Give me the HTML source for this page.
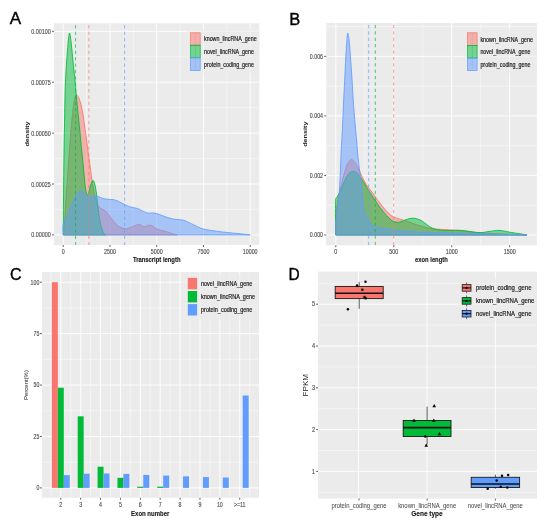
<!DOCTYPE html><html><head><meta charset="utf-8"><style>html,body{margin:0;padding:0;background:#fff;}svg{display:block;}text{font-family:"Liberation Sans", Arial, sans-serif;}</style></head><body>
<svg width="550" height="527" viewBox="0 0 550 527">
<rect x="0" y="0" width="550" height="527" fill="#fff"/>
<rect x="54" y="23.3" width="205.3" height="221.7" fill="#EBEBEB"/>
<line x1="86.58" y1="23.3" x2="86.58" y2="245" stroke="#fff" stroke-width="0.45"/>
<line x1="133.32" y1="23.3" x2="133.32" y2="245" stroke="#fff" stroke-width="0.45"/>
<line x1="180.08" y1="23.3" x2="180.08" y2="245" stroke="#fff" stroke-width="0.45"/>
<line x1="226.82" y1="23.3" x2="226.82" y2="245" stroke="#fff" stroke-width="0.45"/>
<line x1="54" y1="209.45" x2="259.3" y2="209.45" stroke="#fff" stroke-width="0.45"/>
<line x1="54" y1="158.55" x2="259.3" y2="158.55" stroke="#fff" stroke-width="0.45"/>
<line x1="54" y1="107.65" x2="259.3" y2="107.65" stroke="#fff" stroke-width="0.45"/>
<line x1="54" y1="56.75" x2="259.3" y2="56.75" stroke="#fff" stroke-width="0.45"/>
<line x1="63.2" y1="23.3" x2="63.2" y2="245" stroke="#fff" stroke-width="0.9"/>
<line x1="109.95" y1="23.3" x2="109.95" y2="245" stroke="#fff" stroke-width="0.9"/>
<line x1="156.7" y1="23.3" x2="156.7" y2="245" stroke="#fff" stroke-width="0.9"/>
<line x1="203.45" y1="23.3" x2="203.45" y2="245" stroke="#fff" stroke-width="0.9"/>
<line x1="250.2" y1="23.3" x2="250.2" y2="245" stroke="#fff" stroke-width="0.9"/>
<line x1="54" y1="234.9" x2="259.3" y2="234.9" stroke="#fff" stroke-width="0.9"/>
<line x1="54" y1="184" x2="259.3" y2="184" stroke="#fff" stroke-width="0.9"/>
<line x1="54" y1="133.1" x2="259.3" y2="133.1" stroke="#fff" stroke-width="0.9"/>
<line x1="54" y1="82.2" x2="259.3" y2="82.2" stroke="#fff" stroke-width="0.9"/>
<line x1="54" y1="31.3" x2="259.3" y2="31.3" stroke="#fff" stroke-width="0.9"/>
<path d="M63.5,234.9 C63.68,232.75 64.15,228.48 64.6,222 C65.05,215.52 65.63,204.67 66.2,196 C66.77,187.33 67.33,179.33 68,170 C68.67,160.67 69.4,149.83 70.2,140 C71,130.17 72.03,117.92 72.8,111 C73.57,104.08 74.18,101.17 74.8,98.5 C75.42,95.83 75.87,95.17 76.5,95 C77.13,94.83 77.92,96.17 78.6,97.5 C79.28,98.83 79.93,100.58 80.6,103 C81.27,105.42 81.93,108.17 82.6,112 C83.27,115.83 83.92,121.17 84.6,126 C85.28,130.83 86,135.83 86.7,141 C87.4,146.17 88.15,152.17 88.8,157 C89.45,161.83 89.97,165.5 90.6,170 C91.23,174.5 91.87,179.58 92.6,184 C93.33,188.42 94.13,193 95,196.5 C95.87,200 96.8,203 97.8,205 C98.8,207 99.8,207.58 101,208.5 C102.2,209.42 103.6,209.33 105,210.5 C106.4,211.67 107.95,213.67 109.4,215.5 C110.85,217.33 112.02,219.62 113.7,221.5 C115.38,223.38 117.55,225.58 119.5,226.8 C121.45,228.02 123.57,228.68 125.4,228.8 C127.23,228.92 128.32,228.22 130.5,227.5 C132.68,226.78 136.2,224.65 138.5,224.5 C140.8,224.35 142.25,226.47 144.3,226.6 C146.35,226.73 148.62,224.85 150.8,225.3 C152.98,225.75 154.85,228.27 157.4,229.3 C159.95,230.33 163.67,230.78 166.1,231.5 C168.53,232.22 170.17,233.03 172,233.6 C173.83,234.17 176.25,234.68 177.1,234.9 L177.1,234.9 L63.5,234.9 Z" fill="#F8766D" fill-opacity="0.5" stroke="none"/>
<path d="M63.5,234.9 C63.68,232.75 64.15,228.48 64.6,222 C65.05,215.52 65.63,204.67 66.2,196 C66.77,187.33 67.33,179.33 68,170 C68.67,160.67 69.4,149.83 70.2,140 C71,130.17 72.03,117.92 72.8,111 C73.57,104.08 74.18,101.17 74.8,98.5 C75.42,95.83 75.87,95.17 76.5,95 C77.13,94.83 77.92,96.17 78.6,97.5 C79.28,98.83 79.93,100.58 80.6,103 C81.27,105.42 81.93,108.17 82.6,112 C83.27,115.83 83.92,121.17 84.6,126 C85.28,130.83 86,135.83 86.7,141 C87.4,146.17 88.15,152.17 88.8,157 C89.45,161.83 89.97,165.5 90.6,170 C91.23,174.5 91.87,179.58 92.6,184 C93.33,188.42 94.13,193 95,196.5 C95.87,200 96.8,203 97.8,205 C98.8,207 99.8,207.58 101,208.5 C102.2,209.42 103.6,209.33 105,210.5 C106.4,211.67 107.95,213.67 109.4,215.5 C110.85,217.33 112.02,219.62 113.7,221.5 C115.38,223.38 117.55,225.58 119.5,226.8 C121.45,228.02 123.57,228.68 125.4,228.8 C127.23,228.92 128.32,228.22 130.5,227.5 C132.68,226.78 136.2,224.65 138.5,224.5 C140.8,224.35 142.25,226.47 144.3,226.6 C146.35,226.73 148.62,224.85 150.8,225.3 C152.98,225.75 154.85,228.27 157.4,229.3 C159.95,230.33 163.67,230.78 166.1,231.5 C168.53,232.22 170.17,233.03 172,233.6 C173.83,234.17 176.25,234.68 177.1,234.9 L177.1,234.9 L63.5,234.9 Z" fill="none" stroke="#F8766D" stroke-width="0.85"/>
<path d="M63.2,234.9 C63.25,229.08 63.37,214.15 63.5,200 C63.63,185.85 63.82,163.33 64,150 C64.18,136.67 64.42,129.67 64.6,120 C64.78,110.33 64.9,99.5 65.1,92 C65.3,84.5 65.55,80 65.8,75 C66.05,70 66.32,66.17 66.6,62 C66.88,57.83 67.2,53.67 67.5,50 C67.8,46.33 68.08,42.83 68.4,40 C68.72,37.17 69.03,33.33 69.4,33 C69.77,32.67 70.15,34.83 70.6,38 C71.05,41.17 71.55,46.67 72.1,52 C72.65,57.33 73.38,64.92 73.9,70 C74.42,75.08 74.85,78.83 75.2,82.5 C75.55,86.17 75.75,89.08 76,92 C76.25,94.92 76.42,97.17 76.7,100 C76.98,102.83 77.35,105.6 77.7,109 C78.05,112.4 78.45,116.9 78.8,120.4 C79.15,123.9 79.48,126.73 79.8,130 C80.12,133.27 80.28,135.67 80.7,140 C81.12,144.33 81.78,150.67 82.3,156 C82.82,161.33 83.3,166.83 83.8,172 C84.3,177.17 84.78,183.25 85.3,187 C85.82,190.75 86.35,193.5 86.9,194.5 C87.45,195.5 87.97,194.58 88.6,193 C89.23,191.42 89.95,187.1 90.7,185 C91.45,182.9 92.38,180.4 93.1,180.4 C93.82,180.4 94.43,182.73 95,185 C95.57,187.27 95.97,190 96.5,194 C97.03,198 97.58,204.25 98.2,209 C98.82,213.75 99.48,218.92 100.2,222.5 C100.92,226.08 101.78,228.58 102.5,230.5 C103.22,232.42 103.95,233.27 104.5,234 C105.05,234.73 105.58,234.75 105.8,234.9 L105.8,234.9 L63.2,234.9 Z" fill="#00BA38" fill-opacity="0.5" stroke="none"/>
<path d="M63.2,234.9 C63.25,229.08 63.37,214.15 63.5,200 C63.63,185.85 63.82,163.33 64,150 C64.18,136.67 64.42,129.67 64.6,120 C64.78,110.33 64.9,99.5 65.1,92 C65.3,84.5 65.55,80 65.8,75 C66.05,70 66.32,66.17 66.6,62 C66.88,57.83 67.2,53.67 67.5,50 C67.8,46.33 68.08,42.83 68.4,40 C68.72,37.17 69.03,33.33 69.4,33 C69.77,32.67 70.15,34.83 70.6,38 C71.05,41.17 71.55,46.67 72.1,52 C72.65,57.33 73.38,64.92 73.9,70 C74.42,75.08 74.85,78.83 75.2,82.5 C75.55,86.17 75.75,89.08 76,92 C76.25,94.92 76.42,97.17 76.7,100 C76.98,102.83 77.35,105.6 77.7,109 C78.05,112.4 78.45,116.9 78.8,120.4 C79.15,123.9 79.48,126.73 79.8,130 C80.12,133.27 80.28,135.67 80.7,140 C81.12,144.33 81.78,150.67 82.3,156 C82.82,161.33 83.3,166.83 83.8,172 C84.3,177.17 84.78,183.25 85.3,187 C85.82,190.75 86.35,193.5 86.9,194.5 C87.45,195.5 87.97,194.58 88.6,193 C89.23,191.42 89.95,187.1 90.7,185 C91.45,182.9 92.38,180.4 93.1,180.4 C93.82,180.4 94.43,182.73 95,185 C95.57,187.27 95.97,190 96.5,194 C97.03,198 97.58,204.25 98.2,209 C98.82,213.75 99.48,218.92 100.2,222.5 C100.92,226.08 101.78,228.58 102.5,230.5 C103.22,232.42 103.95,233.27 104.5,234 C105.05,234.73 105.58,234.75 105.8,234.9 L105.8,234.9 L63.2,234.9 Z" fill="none" stroke="#00BA38" stroke-width="0.85"/>
<path d="M63.2,234.9 C63.2,233.15 62.73,227.25 63.2,224.4 C63.67,221.55 64.87,220.45 66,217.8 C67.13,215.15 68.67,211.57 70,208.5 C71.33,205.43 72.68,202.02 74,199.4 C75.32,196.78 76.7,194.2 77.9,192.8 C79.1,191.4 80.2,191.05 81.2,191 C82.2,190.95 83.02,191.75 83.9,192.5 C84.78,193.25 85.62,194.75 86.5,195.5 C87.38,196.25 88.2,196.87 89.2,197 C90.2,197.13 91.28,196.47 92.5,196.3 C93.72,196.13 95.17,195.8 96.5,196 C97.83,196.2 99.08,197 100.5,197.5 C101.92,198 103.28,198.67 105,199 C106.72,199.33 109.1,199.33 110.8,199.5 C112.5,199.67 113.75,199.6 115.2,200 C116.65,200.4 117.93,201.15 119.5,201.9 C121.07,202.65 122.9,203.7 124.6,204.5 C126.3,205.3 127.38,205.97 129.7,206.7 C132.02,207.43 135.58,207.85 138.5,208.9 C141.42,209.95 144.53,212.32 147.2,213 C149.87,213.68 151.83,212.52 154.5,213 C157.17,213.48 160.3,214.93 163.2,215.9 C166.1,216.87 169,218.15 171.9,218.8 C174.8,219.45 178.42,219.47 180.6,219.8 C182.78,220.13 183.03,220.07 185,220.8 C186.97,221.53 189.35,222.83 192.4,224.2 C195.45,225.57 199.3,227.83 203.3,229 C207.3,230.17 212.4,230.62 216.4,231.2 C220.4,231.78 223.37,232.07 227.3,232.5 C231.23,232.93 236.18,233.4 240,233.8 C243.82,234.2 248.5,234.72 250.2,234.9 L250.2,234.9 L63.2,234.9 Z" fill="#619CFF" fill-opacity="0.5" stroke="none"/>
<path d="M63.2,234.9 C63.2,233.15 62.73,227.25 63.2,224.4 C63.67,221.55 64.87,220.45 66,217.8 C67.13,215.15 68.67,211.57 70,208.5 C71.33,205.43 72.68,202.02 74,199.4 C75.32,196.78 76.7,194.2 77.9,192.8 C79.1,191.4 80.2,191.05 81.2,191 C82.2,190.95 83.02,191.75 83.9,192.5 C84.78,193.25 85.62,194.75 86.5,195.5 C87.38,196.25 88.2,196.87 89.2,197 C90.2,197.13 91.28,196.47 92.5,196.3 C93.72,196.13 95.17,195.8 96.5,196 C97.83,196.2 99.08,197 100.5,197.5 C101.92,198 103.28,198.67 105,199 C106.72,199.33 109.1,199.33 110.8,199.5 C112.5,199.67 113.75,199.6 115.2,200 C116.65,200.4 117.93,201.15 119.5,201.9 C121.07,202.65 122.9,203.7 124.6,204.5 C126.3,205.3 127.38,205.97 129.7,206.7 C132.02,207.43 135.58,207.85 138.5,208.9 C141.42,209.95 144.53,212.32 147.2,213 C149.87,213.68 151.83,212.52 154.5,213 C157.17,213.48 160.3,214.93 163.2,215.9 C166.1,216.87 169,218.15 171.9,218.8 C174.8,219.45 178.42,219.47 180.6,219.8 C182.78,220.13 183.03,220.07 185,220.8 C186.97,221.53 189.35,222.83 192.4,224.2 C195.45,225.57 199.3,227.83 203.3,229 C207.3,230.17 212.4,230.62 216.4,231.2 C220.4,231.78 223.37,232.07 227.3,232.5 C231.23,232.93 236.18,233.4 240,233.8 C243.82,234.2 248.5,234.72 250.2,234.9 L250.2,234.9 L63.2,234.9 Z" fill="none" stroke="#619CFF" stroke-width="0.85"/>
<line x1="75.6" y1="23.3" x2="75.6" y2="245" stroke="#00BA38" stroke-width="1" stroke-opacity="0.7" stroke-dasharray="3.3,3.08" stroke-dashoffset="4.48"/>
<line x1="88.9" y1="23.3" x2="88.9" y2="245" stroke="#F8766D" stroke-width="1" stroke-opacity="0.7" stroke-dasharray="3.3,3.08" stroke-dashoffset="4.48"/>
<line x1="124.6" y1="23.3" x2="124.6" y2="245" stroke="#619CFF" stroke-width="1" stroke-opacity="0.7" stroke-dasharray="3.3,3.08" stroke-dashoffset="4.48"/>
<line x1="52.1" y1="31.3" x2="54" y2="31.3" stroke="#333333" stroke-width="0.8"/>
<text x="50.7" y="33.8" font-size="7" text-anchor="end" fill="#4D4D4D" font-weight="normal" textLength="19.34" lengthAdjust="spacingAndGlyphs" stroke="#4D4D4D" stroke-width="0.15">0.00100</text>
<line x1="52.1" y1="82.2" x2="54" y2="82.2" stroke="#333333" stroke-width="0.8"/>
<text x="50.7" y="84.7" font-size="7" text-anchor="end" fill="#4D4D4D" font-weight="normal" textLength="19.34" lengthAdjust="spacingAndGlyphs" stroke="#4D4D4D" stroke-width="0.15">0.00075</text>
<line x1="52.1" y1="133.1" x2="54" y2="133.1" stroke="#333333" stroke-width="0.8"/>
<text x="50.7" y="135.6" font-size="7" text-anchor="end" fill="#4D4D4D" font-weight="normal" textLength="19.34" lengthAdjust="spacingAndGlyphs" stroke="#4D4D4D" stroke-width="0.15">0.00050</text>
<line x1="52.1" y1="184" x2="54" y2="184" stroke="#333333" stroke-width="0.8"/>
<text x="50.7" y="186.5" font-size="7" text-anchor="end" fill="#4D4D4D" font-weight="normal" textLength="19.34" lengthAdjust="spacingAndGlyphs" stroke="#4D4D4D" stroke-width="0.15">0.00025</text>
<line x1="52.1" y1="234.9" x2="54" y2="234.9" stroke="#333333" stroke-width="0.8"/>
<text x="50.7" y="237.4" font-size="7" text-anchor="end" fill="#4D4D4D" font-weight="normal" textLength="19.34" lengthAdjust="spacingAndGlyphs" stroke="#4D4D4D" stroke-width="0.15">0.00000</text>
<line x1="63.2" y1="245" x2="63.2" y2="246.9" stroke="#333333" stroke-width="0.8"/>
<text x="63.2" y="253.6" font-size="7" text-anchor="middle" fill="#4D4D4D" font-weight="normal" textLength="2.95" lengthAdjust="spacingAndGlyphs" stroke="#4D4D4D" stroke-width="0.15">0</text>
<line x1="109.95" y1="245" x2="109.95" y2="246.9" stroke="#333333" stroke-width="0.8"/>
<text x="109.95" y="253.6" font-size="7" text-anchor="middle" fill="#4D4D4D" font-weight="normal" textLength="11.79" lengthAdjust="spacingAndGlyphs" stroke="#4D4D4D" stroke-width="0.15">2500</text>
<line x1="156.7" y1="245" x2="156.7" y2="246.9" stroke="#333333" stroke-width="0.8"/>
<text x="156.7" y="253.6" font-size="7" text-anchor="middle" fill="#4D4D4D" font-weight="normal" textLength="11.79" lengthAdjust="spacingAndGlyphs" stroke="#4D4D4D" stroke-width="0.15">5000</text>
<line x1="203.45" y1="245" x2="203.45" y2="246.9" stroke="#333333" stroke-width="0.8"/>
<text x="203.45" y="253.6" font-size="7" text-anchor="middle" fill="#4D4D4D" font-weight="normal" textLength="11.79" lengthAdjust="spacingAndGlyphs" stroke="#4D4D4D" stroke-width="0.15">7500</text>
<line x1="250.2" y1="245" x2="250.2" y2="246.9" stroke="#333333" stroke-width="0.8"/>
<text x="250.2" y="253.6" font-size="7" text-anchor="middle" fill="#4D4D4D" font-weight="normal" textLength="14.74" lengthAdjust="spacingAndGlyphs" stroke="#4D4D4D" stroke-width="0.15">10000</text>
<text x="156.7" y="262" font-size="7.2" text-anchor="middle" fill="#1a1a1a" font-weight="bold" textLength="47.6" lengthAdjust="spacingAndGlyphs" stroke="#1a1a1a" stroke-width="0.15">Transcript length</text>
<text x="28.7" y="134" font-size="5.4" text-anchor="middle" fill="#1a1a1a" font-weight="bold" textLength="25.2" lengthAdjust="spacingAndGlyphs" transform="rotate(-90 28.7 134)">density</text>
<text x="9.8" y="23.6" font-size="16.2" text-anchor="start" fill="#000" font-weight="normal" textLength="11.4" lengthAdjust="spacingAndGlyphs" stroke="#000" stroke-width="0.35">A</text>
<rect x="326.2" y="23" width="210.7" height="222.3" fill="#EBEBEB"/>
<line x1="364.78" y1="23" x2="364.78" y2="245.3" stroke="#fff" stroke-width="0.45"/>
<line x1="422.75" y1="23" x2="422.75" y2="245.3" stroke="#fff" stroke-width="0.45"/>
<line x1="480.71" y1="23" x2="480.71" y2="245.3" stroke="#fff" stroke-width="0.45"/>
<line x1="326.2" y1="205.23" x2="536.9" y2="205.23" stroke="#fff" stroke-width="0.45"/>
<line x1="326.2" y1="145.69" x2="536.9" y2="145.69" stroke="#fff" stroke-width="0.45"/>
<line x1="326.2" y1="86.15" x2="536.9" y2="86.15" stroke="#fff" stroke-width="0.45"/>
<line x1="326.2" y1="26.61" x2="536.9" y2="26.61" stroke="#fff" stroke-width="0.45"/>
<line x1="335.8" y1="23" x2="335.8" y2="245.3" stroke="#fff" stroke-width="0.9"/>
<line x1="393.76" y1="23" x2="393.76" y2="245.3" stroke="#fff" stroke-width="0.9"/>
<line x1="451.73" y1="23" x2="451.73" y2="245.3" stroke="#fff" stroke-width="0.9"/>
<line x1="509.7" y1="23" x2="509.7" y2="245.3" stroke="#fff" stroke-width="0.9"/>
<line x1="326.2" y1="235" x2="536.9" y2="235" stroke="#fff" stroke-width="0.9"/>
<line x1="326.2" y1="175.46" x2="536.9" y2="175.46" stroke="#fff" stroke-width="0.9"/>
<line x1="326.2" y1="115.92" x2="536.9" y2="115.92" stroke="#fff" stroke-width="0.9"/>
<line x1="326.2" y1="56.38" x2="536.9" y2="56.38" stroke="#fff" stroke-width="0.9"/>
<path d="M335.9,235 C335.93,231.5 335.75,219.83 336.1,214 C336.45,208.17 337.28,204.17 338,200 C338.72,195.83 339.52,192.83 340.4,189 C341.28,185.17 342.2,181 343.3,177 C344.4,173 345.67,167.9 347,165 C348.33,162.1 349.97,160.02 351.3,159.6 C352.63,159.18 353.8,161.02 355,162.5 C356.2,163.98 357.33,166.17 358.5,168.5 C359.67,170.83 360.68,173.82 362,176.5 C363.32,179.18 364.72,181.98 366.4,184.6 C368.08,187.22 370.2,189.6 372.1,192.2 C374,194.8 375.9,197.63 377.8,200.2 C379.7,202.77 381.6,205.33 383.5,207.6 C385.4,209.87 387.5,212.25 389.2,213.8 C390.9,215.35 392,216.03 393.7,216.9 C395.4,217.77 397.52,218.38 399.4,219 C401.28,219.62 403.23,220.05 405,220.6 C406.77,221.15 407.5,221.43 410,222.3 C412.5,223.17 416.57,224.77 420,225.8 C423.43,226.83 426.43,227.87 430.6,228.5 C434.77,229.13 440.63,229.3 445,229.6 C449.37,229.9 451.88,229.85 456.8,230.3 C461.72,230.75 468.97,231.78 474.5,232.3 C480.03,232.82 484.92,233.1 490,233.4 C495.08,233.7 498.83,233.83 505,234.1 C511.17,234.37 523.33,234.85 527,235 L527,235 L335.9,235 Z" fill="#F8766D" fill-opacity="0.5" stroke="none"/>
<path d="M335.9,235 C335.93,231.5 335.75,219.83 336.1,214 C336.45,208.17 337.28,204.17 338,200 C338.72,195.83 339.52,192.83 340.4,189 C341.28,185.17 342.2,181 343.3,177 C344.4,173 345.67,167.9 347,165 C348.33,162.1 349.97,160.02 351.3,159.6 C352.63,159.18 353.8,161.02 355,162.5 C356.2,163.98 357.33,166.17 358.5,168.5 C359.67,170.83 360.68,173.82 362,176.5 C363.32,179.18 364.72,181.98 366.4,184.6 C368.08,187.22 370.2,189.6 372.1,192.2 C374,194.8 375.9,197.63 377.8,200.2 C379.7,202.77 381.6,205.33 383.5,207.6 C385.4,209.87 387.5,212.25 389.2,213.8 C390.9,215.35 392,216.03 393.7,216.9 C395.4,217.77 397.52,218.38 399.4,219 C401.28,219.62 403.23,220.05 405,220.6 C406.77,221.15 407.5,221.43 410,222.3 C412.5,223.17 416.57,224.77 420,225.8 C423.43,226.83 426.43,227.87 430.6,228.5 C434.77,229.13 440.63,229.3 445,229.6 C449.37,229.9 451.88,229.85 456.8,230.3 C461.72,230.75 468.97,231.78 474.5,232.3 C480.03,232.82 484.92,233.1 490,233.4 C495.08,233.7 498.83,233.83 505,234.1 C511.17,234.37 523.33,234.85 527,235 L527,235 L335.9,235 Z" fill="none" stroke="#F8766D" stroke-width="0.85"/>
<path d="M335.6,235 C335.6,229.42 335.37,207.75 335.6,201.5 C335.83,195.25 336.35,199 337,197.5 C337.65,196 338.77,194 339.5,192.5 C340.23,191 340.48,190.58 341.4,188.5 C342.32,186.42 343.73,182.5 345,180 C346.27,177.5 347.55,174.95 349,173.5 C350.45,172.05 352.28,171.3 353.7,171.3 C355.12,171.3 356.23,172.3 357.5,173.5 C358.77,174.7 359.82,176.27 361.3,178.5 C362.78,180.73 364.98,184.62 366.4,186.9 C367.82,189.18 368.47,190.13 369.8,192.2 C371.13,194.27 373.07,197.27 374.4,199.3 C375.73,201.33 376.28,202.28 377.8,204.4 C379.32,206.52 381.6,209.68 383.5,212 C385.4,214.32 387.5,216.7 389.2,218.3 C390.9,219.9 392.18,220.93 393.7,221.6 C395.22,222.27 396.93,222.33 398.3,222.3 C399.67,222.27 400.4,221.92 401.9,221.4 C403.4,220.88 405.48,219.73 407.3,219.2 C409.12,218.67 410.82,218.15 412.8,218.2 C414.78,218.25 417.32,218.78 419.2,219.5 C421.08,220.22 422.2,221.2 424.1,222.5 C426,223.8 428.42,226.12 430.6,227.3 C432.78,228.48 434.73,229.05 437.2,229.6 C439.67,230.15 442.68,230.47 445.4,230.6 C448.12,230.73 450.57,230.42 453.5,230.4 C456.43,230.38 458.75,230.13 463,230.5 C467.25,230.87 474.67,232.43 479,232.6 C483.33,232.77 485.67,231.87 489,231.5 C492.33,231.13 495.23,230.23 499,230.4 C502.77,230.57 508.1,231.93 511.6,232.5 C515.1,233.07 517.43,233.38 520,233.8 C522.57,234.22 525.83,234.8 527,235 L527,235 L335.6,235 Z" fill="#00BA38" fill-opacity="0.5" stroke="none"/>
<path d="M335.6,235 C335.6,229.42 335.37,207.75 335.6,201.5 C335.83,195.25 336.35,199 337,197.5 C337.65,196 338.77,194 339.5,192.5 C340.23,191 340.48,190.58 341.4,188.5 C342.32,186.42 343.73,182.5 345,180 C346.27,177.5 347.55,174.95 349,173.5 C350.45,172.05 352.28,171.3 353.7,171.3 C355.12,171.3 356.23,172.3 357.5,173.5 C358.77,174.7 359.82,176.27 361.3,178.5 C362.78,180.73 364.98,184.62 366.4,186.9 C367.82,189.18 368.47,190.13 369.8,192.2 C371.13,194.27 373.07,197.27 374.4,199.3 C375.73,201.33 376.28,202.28 377.8,204.4 C379.32,206.52 381.6,209.68 383.5,212 C385.4,214.32 387.5,216.7 389.2,218.3 C390.9,219.9 392.18,220.93 393.7,221.6 C395.22,222.27 396.93,222.33 398.3,222.3 C399.67,222.27 400.4,221.92 401.9,221.4 C403.4,220.88 405.48,219.73 407.3,219.2 C409.12,218.67 410.82,218.15 412.8,218.2 C414.78,218.25 417.32,218.78 419.2,219.5 C421.08,220.22 422.2,221.2 424.1,222.5 C426,223.8 428.42,226.12 430.6,227.3 C432.78,228.48 434.73,229.05 437.2,229.6 C439.67,230.15 442.68,230.47 445.4,230.6 C448.12,230.73 450.57,230.42 453.5,230.4 C456.43,230.38 458.75,230.13 463,230.5 C467.25,230.87 474.67,232.43 479,232.6 C483.33,232.77 485.67,231.87 489,231.5 C492.33,231.13 495.23,230.23 499,230.4 C502.77,230.57 508.1,231.93 511.6,232.5 C515.1,233.07 517.43,233.38 520,233.8 C522.57,234.22 525.83,234.8 527,235 L527,235 L335.6,235 Z" fill="none" stroke="#00BA38" stroke-width="0.85"/>
<path d="M335.8,235 C335.8,232.83 335.7,224.83 335.8,222 C335.9,219.17 336.17,220 336.4,218 C336.63,216 336.9,212.83 337.2,210 C337.5,207.17 337.83,204.33 338.2,201 C338.57,197.67 339.05,194.67 339.4,190 C339.75,185.33 340.02,179.17 340.3,173 C340.58,166.83 340.85,158.5 341.1,153 C341.35,147.5 341.55,144.67 341.8,140 C342.05,135.33 342.3,131.5 342.6,125 C342.9,118.5 343.27,108.17 343.6,101 C343.93,93.83 344.28,88.33 344.6,82 C344.92,75.67 345.17,69.33 345.5,63 C345.83,56.67 346.25,48.97 346.6,44 C346.95,39.03 347.25,34.37 347.6,33.2 C347.95,32.03 348.38,35.2 348.7,37 C349.02,38.8 349.13,39.67 349.5,44 C349.87,48.33 350.45,56.67 350.9,63 C351.35,69.33 351.8,75.67 352.2,82 C352.6,88.33 352.8,93.83 353.3,101 C353.8,108.17 354.65,118.5 355.2,125 C355.75,131.5 356.12,134.5 356.6,140 C357.08,145.5 357.57,152.67 358.1,158 C358.63,163.33 359.28,167.67 359.8,172 C360.32,176.33 360.75,179.83 361.2,184 C361.65,188.17 362.03,192.92 362.5,197 C362.97,201.08 363.35,205.25 364,208.5 C364.65,211.75 365.43,214.12 366.4,216.5 C367.37,218.88 368.43,221.17 369.8,222.8 C371.17,224.43 372.52,225.37 374.6,226.3 C376.68,227.23 379.2,227.8 382.3,228.4 C385.4,229 389.57,229.47 393.2,229.9 C396.83,230.33 400.47,230.7 404.1,231 C407.73,231.3 411.67,231.48 415,231.7 C418.33,231.92 415.77,232.02 424.1,232.3 C432.43,232.58 452.35,233.1 465,233.4 C477.65,233.7 489.67,233.83 500,234.1 C510.33,234.37 522.5,234.85 527,235 L527,235 L335.8,235 Z" fill="#619CFF" fill-opacity="0.5" stroke="none"/>
<path d="M335.8,235 C335.8,232.83 335.7,224.83 335.8,222 C335.9,219.17 336.17,220 336.4,218 C336.63,216 336.9,212.83 337.2,210 C337.5,207.17 337.83,204.33 338.2,201 C338.57,197.67 339.05,194.67 339.4,190 C339.75,185.33 340.02,179.17 340.3,173 C340.58,166.83 340.85,158.5 341.1,153 C341.35,147.5 341.55,144.67 341.8,140 C342.05,135.33 342.3,131.5 342.6,125 C342.9,118.5 343.27,108.17 343.6,101 C343.93,93.83 344.28,88.33 344.6,82 C344.92,75.67 345.17,69.33 345.5,63 C345.83,56.67 346.25,48.97 346.6,44 C346.95,39.03 347.25,34.37 347.6,33.2 C347.95,32.03 348.38,35.2 348.7,37 C349.02,38.8 349.13,39.67 349.5,44 C349.87,48.33 350.45,56.67 350.9,63 C351.35,69.33 351.8,75.67 352.2,82 C352.6,88.33 352.8,93.83 353.3,101 C353.8,108.17 354.65,118.5 355.2,125 C355.75,131.5 356.12,134.5 356.6,140 C357.08,145.5 357.57,152.67 358.1,158 C358.63,163.33 359.28,167.67 359.8,172 C360.32,176.33 360.75,179.83 361.2,184 C361.65,188.17 362.03,192.92 362.5,197 C362.97,201.08 363.35,205.25 364,208.5 C364.65,211.75 365.43,214.12 366.4,216.5 C367.37,218.88 368.43,221.17 369.8,222.8 C371.17,224.43 372.52,225.37 374.6,226.3 C376.68,227.23 379.2,227.8 382.3,228.4 C385.4,229 389.57,229.47 393.2,229.9 C396.83,230.33 400.47,230.7 404.1,231 C407.73,231.3 411.67,231.48 415,231.7 C418.33,231.92 415.77,232.02 424.1,232.3 C432.43,232.58 452.35,233.1 465,233.4 C477.65,233.7 489.67,233.83 500,234.1 C510.33,234.37 522.5,234.85 527,235 L527,235 L335.8,235 Z" fill="none" stroke="#619CFF" stroke-width="0.85"/>
<line x1="368.7" y1="23" x2="368.7" y2="245.3" stroke="#619CFF" stroke-width="1" stroke-opacity="0.7" stroke-dasharray="3.3,3.08" stroke-dashoffset="4.48"/>
<line x1="375.3" y1="23" x2="375.3" y2="245.3" stroke="#00BA38" stroke-width="1" stroke-opacity="0.7" stroke-dasharray="3.3,3.08" stroke-dashoffset="4.48"/>
<line x1="393.7" y1="23" x2="393.7" y2="245.3" stroke="#F8766D" stroke-width="1" stroke-opacity="0.7" stroke-dasharray="3.3,3.08" stroke-dashoffset="4.48"/>
<line x1="324.3" y1="56.38" x2="326.2" y2="56.38" stroke="#333333" stroke-width="0.8"/>
<text x="323" y="58.78" font-size="7" text-anchor="end" fill="#4D4D4D" font-weight="normal" textLength="13.14" lengthAdjust="spacingAndGlyphs" stroke="#4D4D4D" stroke-width="0.15">0.006</text>
<line x1="324.3" y1="115.92" x2="326.2" y2="115.92" stroke="#333333" stroke-width="0.8"/>
<text x="323" y="118.32" font-size="7" text-anchor="end" fill="#4D4D4D" font-weight="normal" textLength="13.14" lengthAdjust="spacingAndGlyphs" stroke="#4D4D4D" stroke-width="0.15">0.004</text>
<line x1="324.3" y1="175.46" x2="326.2" y2="175.46" stroke="#333333" stroke-width="0.8"/>
<text x="323" y="177.86" font-size="7" text-anchor="end" fill="#4D4D4D" font-weight="normal" textLength="13.14" lengthAdjust="spacingAndGlyphs" stroke="#4D4D4D" stroke-width="0.15">0.002</text>
<line x1="324.3" y1="235" x2="326.2" y2="235" stroke="#333333" stroke-width="0.8"/>
<text x="323" y="237.4" font-size="7" text-anchor="end" fill="#4D4D4D" font-weight="normal" textLength="13.14" lengthAdjust="spacingAndGlyphs" stroke="#4D4D4D" stroke-width="0.15">0.000</text>
<line x1="335.8" y1="245.3" x2="335.8" y2="247.2" stroke="#333333" stroke-width="0.8"/>
<text x="335.8" y="254" font-size="7" text-anchor="middle" fill="#4D4D4D" font-weight="normal" textLength="2.95" lengthAdjust="spacingAndGlyphs" stroke="#4D4D4D" stroke-width="0.15">0</text>
<line x1="393.76" y1="245.3" x2="393.76" y2="247.2" stroke="#333333" stroke-width="0.8"/>
<text x="393.76" y="254" font-size="7" text-anchor="middle" fill="#4D4D4D" font-weight="normal" textLength="8.84" lengthAdjust="spacingAndGlyphs" stroke="#4D4D4D" stroke-width="0.15">500</text>
<line x1="451.73" y1="245.3" x2="451.73" y2="247.2" stroke="#333333" stroke-width="0.8"/>
<text x="451.73" y="254" font-size="7" text-anchor="middle" fill="#4D4D4D" font-weight="normal" textLength="11.79" lengthAdjust="spacingAndGlyphs" stroke="#4D4D4D" stroke-width="0.15">1000</text>
<line x1="509.7" y1="245.3" x2="509.7" y2="247.2" stroke="#333333" stroke-width="0.8"/>
<text x="509.7" y="254" font-size="7" text-anchor="middle" fill="#4D4D4D" font-weight="normal" textLength="11.79" lengthAdjust="spacingAndGlyphs" stroke="#4D4D4D" stroke-width="0.15">1500</text>
<text x="431.4" y="262.2" font-size="7.2" text-anchor="middle" fill="#1a1a1a" font-weight="bold" textLength="32.6" lengthAdjust="spacingAndGlyphs" stroke="#1a1a1a" stroke-width="0.15">exon length</text>
<text x="306.8" y="134.2" font-size="5.4" text-anchor="middle" fill="#1a1a1a" font-weight="bold" textLength="25.2" lengthAdjust="spacingAndGlyphs" transform="rotate(-90 306.8 134.2)">density</text>
<text x="289.2" y="24.6" font-size="16.2" text-anchor="start" fill="#000" font-weight="normal" textLength="11" lengthAdjust="spacingAndGlyphs" stroke="#000" stroke-width="0.35">B</text>
<rect x="186.5" y="29" width="72.8" height="44.5" fill="#EBEBEB" fill-opacity="0.6"/>
<rect x="463.5" y="29" width="73.4" height="44.5" fill="#EBEBEB" fill-opacity="0.6"/>
<rect x="190.6" y="32.8" width="9.6" height="12.4" fill="#F8766D" fill-opacity="0.5" stroke="#F8766D" stroke-width="0.7"/>
<line x1="195.4" y1="33.8" x2="195.4" y2="44.2" stroke="#F8766D" stroke-width="0.5" stroke-dasharray="1.2,1.2"/>
<rect x="190.6" y="45.2" width="9.6" height="12.6" fill="#00BA38" fill-opacity="0.5" stroke="#00BA38" stroke-width="0.7"/>
<line x1="195.4" y1="46.2" x2="195.4" y2="56.8" stroke="#00BA38" stroke-width="0.5" stroke-dasharray="1.2,1.2"/>
<rect x="190.6" y="57.8" width="9.6" height="12.8" fill="#619CFF" fill-opacity="0.5" stroke="#619CFF" stroke-width="0.7"/>
<line x1="195.4" y1="58.8" x2="195.4" y2="69.6" stroke="#619CFF" stroke-width="0.5" stroke-dasharray="1.2,1.2"/>
<text x="204" y="41.4" font-size="7" text-anchor="start" fill="#1a1a1a" font-weight="normal" textLength="52.64" lengthAdjust="spacingAndGlyphs" stroke="#1a1a1a" stroke-width="0.2">known_lincRNA_gene</text>
<text x="204" y="53.9" font-size="7" text-anchor="start" fill="#1a1a1a" font-weight="normal" textLength="49.97" lengthAdjust="spacingAndGlyphs" stroke="#1a1a1a" stroke-width="0.2">novel_lincRNA_gene</text>
<text x="204" y="66.6" font-size="7" text-anchor="start" fill="#1a1a1a" font-weight="normal" textLength="49.98" lengthAdjust="spacingAndGlyphs" stroke="#1a1a1a" stroke-width="0.2">protein_coding_gene</text>
<rect x="467.5" y="32.8" width="9.6" height="12.6" fill="#F8766D" fill-opacity="0.5" stroke="#F8766D" stroke-width="0.7"/>
<line x1="472.3" y1="33.8" x2="472.3" y2="44.4" stroke="#F8766D" stroke-width="0.5" stroke-dasharray="1.2,1.2"/>
<rect x="467.5" y="45.4" width="9.6" height="12.6" fill="#00BA38" fill-opacity="0.5" stroke="#00BA38" stroke-width="0.7"/>
<line x1="472.3" y1="46.4" x2="472.3" y2="57" stroke="#00BA38" stroke-width="0.5" stroke-dasharray="1.2,1.2"/>
<rect x="467.5" y="58" width="9.6" height="12.6" fill="#619CFF" fill-opacity="0.5" stroke="#619CFF" stroke-width="0.7"/>
<line x1="472.3" y1="59" x2="472.3" y2="69.6" stroke="#619CFF" stroke-width="0.5" stroke-dasharray="1.2,1.2"/>
<text x="480.4" y="41.5" font-size="7" text-anchor="start" fill="#1a1a1a" font-weight="normal" textLength="52.64" lengthAdjust="spacingAndGlyphs" stroke="#1a1a1a" stroke-width="0.2">known_lincRNA_gene</text>
<text x="480.4" y="54.1" font-size="7" text-anchor="start" fill="#1a1a1a" font-weight="normal" textLength="49.97" lengthAdjust="spacingAndGlyphs" stroke="#1a1a1a" stroke-width="0.2">novel_lincRNA_gene</text>
<text x="480.4" y="66.7" font-size="7" text-anchor="start" fill="#1a1a1a" font-weight="normal" textLength="49.98" lengthAdjust="spacingAndGlyphs" stroke="#1a1a1a" stroke-width="0.2">protein_coding_gene</text>
<rect x="41.9" y="272" width="217.1" height="225.8" fill="#EBEBEB"/>
<line x1="50.86" y1="272" x2="50.86" y2="497.8" stroke="#fff" stroke-width="0.45"/>
<line x1="70.74" y1="272" x2="70.74" y2="497.8" stroke="#fff" stroke-width="0.45"/>
<line x1="90.62" y1="272" x2="90.62" y2="497.8" stroke="#fff" stroke-width="0.45"/>
<line x1="110.5" y1="272" x2="110.5" y2="497.8" stroke="#fff" stroke-width="0.45"/>
<line x1="130.38" y1="272" x2="130.38" y2="497.8" stroke="#fff" stroke-width="0.45"/>
<line x1="150.26" y1="272" x2="150.26" y2="497.8" stroke="#fff" stroke-width="0.45"/>
<line x1="170.14" y1="272" x2="170.14" y2="497.8" stroke="#fff" stroke-width="0.45"/>
<line x1="190.02" y1="272" x2="190.02" y2="497.8" stroke="#fff" stroke-width="0.45"/>
<line x1="209.9" y1="272" x2="209.9" y2="497.8" stroke="#fff" stroke-width="0.45"/>
<line x1="229.78" y1="272" x2="229.78" y2="497.8" stroke="#fff" stroke-width="0.45"/>
<line x1="249.66" y1="272" x2="249.66" y2="497.8" stroke="#fff" stroke-width="0.45"/>
<line x1="41.9" y1="462.19" x2="259" y2="462.19" stroke="#fff" stroke-width="0.45"/>
<line x1="41.9" y1="410.76" x2="259" y2="410.76" stroke="#fff" stroke-width="0.45"/>
<line x1="41.9" y1="359.34" x2="259" y2="359.34" stroke="#fff" stroke-width="0.45"/>
<line x1="41.9" y1="307.91" x2="259" y2="307.91" stroke="#fff" stroke-width="0.45"/>
<line x1="60.8" y1="272" x2="60.8" y2="497.8" stroke="#fff" stroke-width="0.9"/>
<line x1="80.68" y1="272" x2="80.68" y2="497.8" stroke="#fff" stroke-width="0.9"/>
<line x1="100.56" y1="272" x2="100.56" y2="497.8" stroke="#fff" stroke-width="0.9"/>
<line x1="120.44" y1="272" x2="120.44" y2="497.8" stroke="#fff" stroke-width="0.9"/>
<line x1="140.32" y1="272" x2="140.32" y2="497.8" stroke="#fff" stroke-width="0.9"/>
<line x1="160.2" y1="272" x2="160.2" y2="497.8" stroke="#fff" stroke-width="0.9"/>
<line x1="180.08" y1="272" x2="180.08" y2="497.8" stroke="#fff" stroke-width="0.9"/>
<line x1="199.96" y1="272" x2="199.96" y2="497.8" stroke="#fff" stroke-width="0.9"/>
<line x1="219.84" y1="272" x2="219.84" y2="497.8" stroke="#fff" stroke-width="0.9"/>
<line x1="239.72" y1="272" x2="239.72" y2="497.8" stroke="#fff" stroke-width="0.9"/>
<line x1="41.9" y1="487.9" x2="259" y2="487.9" stroke="#fff" stroke-width="0.9"/>
<line x1="41.9" y1="436.47" x2="259" y2="436.47" stroke="#fff" stroke-width="0.9"/>
<line x1="41.9" y1="385.05" x2="259" y2="385.05" stroke="#fff" stroke-width="0.9"/>
<line x1="41.9" y1="333.62" x2="259" y2="333.62" stroke="#fff" stroke-width="0.9"/>
<line x1="41.9" y1="282.2" x2="259" y2="282.2" stroke="#fff" stroke-width="0.9"/>
<rect x="51.86" y="282.2" width="5.96" height="205.7" fill="#F8766D"/>
<rect x="57.82" y="387.72" width="5.96" height="100.18" fill="#00BA38"/>
<rect x="63.78" y="475.15" width="5.96" height="12.75" fill="#619CFF"/>
<rect x="77.7" y="416.32" width="5.96" height="71.58" fill="#00BA38"/>
<rect x="83.66" y="473.71" width="5.96" height="14.19" fill="#619CFF"/>
<rect x="97.58" y="466.71" width="5.96" height="21.19" fill="#00BA38"/>
<rect x="103.54" y="473.5" width="5.96" height="14.4" fill="#619CFF"/>
<rect x="117.46" y="477.82" width="5.96" height="10.08" fill="#00BA38"/>
<rect x="123.42" y="473.91" width="5.96" height="13.99" fill="#619CFF"/>
<rect x="137.34" y="486.67" width="5.96" height="1.23" fill="#00BA38"/>
<rect x="143.3" y="474.94" width="5.96" height="12.96" fill="#619CFF"/>
<rect x="157.22" y="486.67" width="5.96" height="1.23" fill="#00BA38"/>
<rect x="163.18" y="475.56" width="5.96" height="12.34" fill="#619CFF"/>
<rect x="183.06" y="476.38" width="5.96" height="11.52" fill="#619CFF"/>
<rect x="202.94" y="477.1" width="5.96" height="10.8" fill="#619CFF"/>
<rect x="222.82" y="477.51" width="5.96" height="10.39" fill="#619CFF"/>
<rect x="242.7" y="395.54" width="5.96" height="92.36" fill="#619CFF"/>
<line x1="40" y1="282.2" x2="41.9" y2="282.2" stroke="#333333" stroke-width="0.8"/>
<text x="39.3" y="284.6" font-size="7" text-anchor="end" fill="#4D4D4D" font-weight="normal" textLength="8.68" lengthAdjust="spacingAndGlyphs" stroke="#4D4D4D" stroke-width="0.15">100</text>
<line x1="40" y1="333.62" x2="41.9" y2="333.62" stroke="#333333" stroke-width="0.8"/>
<text x="39.3" y="336.02" font-size="7" text-anchor="end" fill="#4D4D4D" font-weight="normal" textLength="5.78" lengthAdjust="spacingAndGlyphs" stroke="#4D4D4D" stroke-width="0.15">75</text>
<line x1="40" y1="385.05" x2="41.9" y2="385.05" stroke="#333333" stroke-width="0.8"/>
<text x="39.3" y="387.45" font-size="7" text-anchor="end" fill="#4D4D4D" font-weight="normal" textLength="5.78" lengthAdjust="spacingAndGlyphs" stroke="#4D4D4D" stroke-width="0.15">50</text>
<line x1="40" y1="436.47" x2="41.9" y2="436.47" stroke="#333333" stroke-width="0.8"/>
<text x="39.3" y="438.87" font-size="7" text-anchor="end" fill="#4D4D4D" font-weight="normal" textLength="5.78" lengthAdjust="spacingAndGlyphs" stroke="#4D4D4D" stroke-width="0.15">25</text>
<line x1="40" y1="487.9" x2="41.9" y2="487.9" stroke="#333333" stroke-width="0.8"/>
<text x="39.3" y="490.3" font-size="7" text-anchor="end" fill="#4D4D4D" font-weight="normal" textLength="2.89" lengthAdjust="spacingAndGlyphs" stroke="#4D4D4D" stroke-width="0.15">0</text>
<line x1="60.8" y1="497.8" x2="60.8" y2="499.7" stroke="#333333" stroke-width="0.8"/>
<text x="60.8" y="507" font-size="7" text-anchor="middle" fill="#4D4D4D" font-weight="normal" textLength="2.95" lengthAdjust="spacingAndGlyphs" stroke="#4D4D4D" stroke-width="0.15">2</text>
<line x1="80.68" y1="497.8" x2="80.68" y2="499.7" stroke="#333333" stroke-width="0.8"/>
<text x="80.68" y="507" font-size="7" text-anchor="middle" fill="#4D4D4D" font-weight="normal" textLength="2.95" lengthAdjust="spacingAndGlyphs" stroke="#4D4D4D" stroke-width="0.15">3</text>
<line x1="100.56" y1="497.8" x2="100.56" y2="499.7" stroke="#333333" stroke-width="0.8"/>
<text x="100.56" y="507" font-size="7" text-anchor="middle" fill="#4D4D4D" font-weight="normal" textLength="2.95" lengthAdjust="spacingAndGlyphs" stroke="#4D4D4D" stroke-width="0.15">4</text>
<line x1="120.44" y1="497.8" x2="120.44" y2="499.7" stroke="#333333" stroke-width="0.8"/>
<text x="120.44" y="507" font-size="7" text-anchor="middle" fill="#4D4D4D" font-weight="normal" textLength="2.95" lengthAdjust="spacingAndGlyphs" stroke="#4D4D4D" stroke-width="0.15">5</text>
<line x1="140.32" y1="497.8" x2="140.32" y2="499.7" stroke="#333333" stroke-width="0.8"/>
<text x="140.32" y="507" font-size="7" text-anchor="middle" fill="#4D4D4D" font-weight="normal" textLength="2.95" lengthAdjust="spacingAndGlyphs" stroke="#4D4D4D" stroke-width="0.15">6</text>
<line x1="160.2" y1="497.8" x2="160.2" y2="499.7" stroke="#333333" stroke-width="0.8"/>
<text x="160.2" y="507" font-size="7" text-anchor="middle" fill="#4D4D4D" font-weight="normal" textLength="2.95" lengthAdjust="spacingAndGlyphs" stroke="#4D4D4D" stroke-width="0.15">7</text>
<line x1="180.08" y1="497.8" x2="180.08" y2="499.7" stroke="#333333" stroke-width="0.8"/>
<text x="180.08" y="507" font-size="7" text-anchor="middle" fill="#4D4D4D" font-weight="normal" textLength="2.95" lengthAdjust="spacingAndGlyphs" stroke="#4D4D4D" stroke-width="0.15">8</text>
<line x1="199.96" y1="497.8" x2="199.96" y2="499.7" stroke="#333333" stroke-width="0.8"/>
<text x="199.96" y="507" font-size="7" text-anchor="middle" fill="#4D4D4D" font-weight="normal" textLength="2.95" lengthAdjust="spacingAndGlyphs" stroke="#4D4D4D" stroke-width="0.15">9</text>
<line x1="219.84" y1="497.8" x2="219.84" y2="499.7" stroke="#333333" stroke-width="0.8"/>
<text x="219.84" y="507" font-size="7" text-anchor="middle" fill="#4D4D4D" font-weight="normal" textLength="5.9" lengthAdjust="spacingAndGlyphs" stroke="#4D4D4D" stroke-width="0.15">10</text>
<line x1="239.72" y1="497.8" x2="239.72" y2="499.7" stroke="#333333" stroke-width="0.8"/>
<text x="239.72" y="507" font-size="7" text-anchor="middle" fill="#4D4D4D" font-weight="normal" textLength="11.69" lengthAdjust="spacingAndGlyphs" stroke="#4D4D4D" stroke-width="0.15">&gt;=11</text>
<text x="150.2" y="516" font-size="7.4" text-anchor="middle" fill="#1a1a1a" font-weight="bold" textLength="38.2" lengthAdjust="spacingAndGlyphs" stroke="#1a1a1a" stroke-width="0.15">Exon number</text>
<text x="27.6" y="385" font-size="4.7" text-anchor="middle" fill="#1a1a1a" font-weight="normal" textLength="29.8" lengthAdjust="spacingAndGlyphs" transform="rotate(-90 27.6 385)">Percent(%)</text>
<text x="9.9" y="279.6" font-size="16.2" text-anchor="start" fill="#000" font-weight="normal" textLength="11.6" lengthAdjust="spacingAndGlyphs" stroke="#000" stroke-width="0.35">C</text>
<rect x="181.3" y="274" width="77.7" height="46.5" fill="#EBEBEB" fill-opacity="0.6"/>
<rect x="187.8" y="277.9" width="9.3" height="11.4" fill="#F8766D"/>
<rect x="187.8" y="291" width="9.3" height="11.4" fill="#00BA38"/>
<rect x="187.8" y="304.1" width="9.3" height="11.4" fill="#619CFF"/>
<text x="201" y="285.6" font-size="7" text-anchor="start" fill="#1a1a1a" font-weight="normal" textLength="51.37" lengthAdjust="spacingAndGlyphs" stroke="#1a1a1a" stroke-width="0.2">novel_lincRNA_gene</text>
<text x="201" y="298.7" font-size="7" text-anchor="start" fill="#1a1a1a" font-weight="normal" textLength="54.12" lengthAdjust="spacingAndGlyphs" stroke="#1a1a1a" stroke-width="0.2">known_lincRNA_gene</text>
<text x="201" y="311.6" font-size="7" text-anchor="start" fill="#1a1a1a" font-weight="normal" textLength="51.38" lengthAdjust="spacingAndGlyphs" stroke="#1a1a1a" stroke-width="0.2">protein_coding_gene</text>
<rect x="318" y="271.6" width="219" height="227" fill="#EBEBEB"/>
<line x1="318" y1="492.3" x2="537" y2="492.3" stroke="#fff" stroke-width="0.45"/>
<line x1="318" y1="450.5" x2="537" y2="450.5" stroke="#fff" stroke-width="0.45"/>
<line x1="318" y1="408.7" x2="537" y2="408.7" stroke="#fff" stroke-width="0.45"/>
<line x1="318" y1="366.9" x2="537" y2="366.9" stroke="#fff" stroke-width="0.45"/>
<line x1="318" y1="325.1" x2="537" y2="325.1" stroke="#fff" stroke-width="0.45"/>
<line x1="318" y1="283.3" x2="537" y2="283.3" stroke="#fff" stroke-width="0.45"/>
<line x1="358.6" y1="271.6" x2="358.6" y2="498.6" stroke="#fff" stroke-width="0.9"/>
<line x1="427" y1="271.6" x2="427" y2="498.6" stroke="#fff" stroke-width="0.9"/>
<line x1="495.4" y1="271.6" x2="495.4" y2="498.6" stroke="#fff" stroke-width="0.9"/>
<line x1="318" y1="471.4" x2="537" y2="471.4" stroke="#fff" stroke-width="0.9"/>
<line x1="318" y1="429.6" x2="537" y2="429.6" stroke="#fff" stroke-width="0.9"/>
<line x1="318" y1="387.8" x2="537" y2="387.8" stroke="#fff" stroke-width="0.9"/>
<line x1="318" y1="346" x2="537" y2="346" stroke="#fff" stroke-width="0.9"/>
<line x1="318" y1="304.2" x2="537" y2="304.2" stroke="#fff" stroke-width="0.9"/>
<line x1="359.2" y1="282.1" x2="359.2" y2="286.5" stroke="#333" stroke-width="0.8"/>
<line x1="359.2" y1="298.6" x2="359.2" y2="308.8" stroke="#333" stroke-width="0.8"/>
<rect x="335.2" y="286.5" width="48" height="12.1" fill="#F8766D" stroke="#1a1a1a" stroke-width="0.9"/>
<line x1="335.2" y1="293.3" x2="383.2" y2="293.3" stroke="#111" stroke-width="1.6"/>
<line x1="427.1" y1="406.6" x2="427.1" y2="420.5" stroke="#333" stroke-width="0.8"/>
<line x1="427.1" y1="436.5" x2="427.1" y2="444.5" stroke="#333" stroke-width="0.8"/>
<rect x="403.2" y="420.5" width="47.8" height="16" fill="#00BA38" stroke="#1a1a1a" stroke-width="0.9"/>
<line x1="403.2" y1="427.6" x2="451" y2="427.6" stroke="#111" stroke-width="1.6"/>
<line x1="495.4" y1="474.7" x2="495.4" y2="477.3" stroke="#333" stroke-width="0.8"/>
<line x1="495.4" y1="487.5" x2="495.4" y2="488.7" stroke="#333" stroke-width="0.8"/>
<rect x="471.2" y="477.3" width="48.4" height="10.2" fill="#619CFF" stroke="#1a1a1a" stroke-width="0.9"/>
<line x1="471.2" y1="484" x2="519.6" y2="484" stroke="#111" stroke-width="1.6"/>
<circle cx="365.5" cy="281.8" r="1.25" fill="#000"/>
<circle cx="357.1" cy="285.5" r="1.25" fill="#000"/>
<circle cx="362.3" cy="289.7" r="1.25" fill="#000"/>
<circle cx="364.5" cy="297.1" r="1.25" fill="#000"/>
<circle cx="365.7" cy="298.3" r="1.25" fill="#000"/>
<circle cx="347.9" cy="309.2" r="1.25" fill="#000"/>
<circle cx="502" cy="475.7" r="1.25" fill="#000"/>
<circle cx="508.1" cy="475" r="1.25" fill="#000"/>
<circle cx="496.7" cy="480.5" r="1.25" fill="#000"/>
<circle cx="500.7" cy="486.8" r="1.25" fill="#000"/>
<circle cx="507.3" cy="487.5" r="1.25" fill="#000"/>
<circle cx="487.7" cy="488.7" r="1.25" fill="#000"/>
<circle cx="425.3" cy="436.5" r="1.25" fill="#000"/>
<path d="M434.2,404 L436,407.23 L432.39,407.23 Z" fill="#000"/>
<path d="M414,418.6 L415.81,421.83 L412.19,421.83 Z" fill="#000"/>
<path d="M433.8,418.6 L435.61,421.83 L432,421.83 Z" fill="#000"/>
<path d="M439.5,431.9 L441.31,435.13 L437.69,435.13 Z" fill="#000"/>
<path d="M426.2,443.6 L428,446.83 L424.39,446.83 Z" fill="#000"/>
<line x1="316.1" y1="304.2" x2="318" y2="304.2" stroke="#333333" stroke-width="0.8"/>
<text x="315" y="306.4" font-size="7" text-anchor="end" fill="#4D4D4D" font-weight="normal" textLength="3.11" lengthAdjust="spacingAndGlyphs" stroke="#4D4D4D" stroke-width="0.15">5</text>
<line x1="316.1" y1="346" x2="318" y2="346" stroke="#333333" stroke-width="0.8"/>
<text x="315" y="348.2" font-size="7" text-anchor="end" fill="#4D4D4D" font-weight="normal" textLength="3.11" lengthAdjust="spacingAndGlyphs" stroke="#4D4D4D" stroke-width="0.15">4</text>
<line x1="316.1" y1="387.8" x2="318" y2="387.8" stroke="#333333" stroke-width="0.8"/>
<text x="315" y="390" font-size="7" text-anchor="end" fill="#4D4D4D" font-weight="normal" textLength="3.11" lengthAdjust="spacingAndGlyphs" stroke="#4D4D4D" stroke-width="0.15">3</text>
<line x1="316.1" y1="429.6" x2="318" y2="429.6" stroke="#333333" stroke-width="0.8"/>
<text x="315" y="431.8" font-size="7" text-anchor="end" fill="#4D4D4D" font-weight="normal" textLength="3.11" lengthAdjust="spacingAndGlyphs" stroke="#4D4D4D" stroke-width="0.15">2</text>
<line x1="316.1" y1="471.4" x2="318" y2="471.4" stroke="#333333" stroke-width="0.8"/>
<text x="315" y="473.6" font-size="7" text-anchor="end" fill="#4D4D4D" font-weight="normal" textLength="3.11" lengthAdjust="spacingAndGlyphs" stroke="#4D4D4D" stroke-width="0.15">1</text>
<line x1="359" y1="498.6" x2="359" y2="500.5" stroke="#333333" stroke-width="0.8"/>
<text x="359" y="507.9" font-size="6.8" text-anchor="middle" fill="#4D4D4D" font-weight="normal" textLength="55.11" lengthAdjust="spacingAndGlyphs" stroke="#4D4D4D" stroke-width="0.05">protein_coding_gene</text>
<line x1="427.15" y1="498.6" x2="427.15" y2="500.5" stroke="#333333" stroke-width="0.8"/>
<text x="427.15" y="507.9" font-size="6.8" text-anchor="middle" fill="#4D4D4D" font-weight="normal" textLength="58.05" lengthAdjust="spacingAndGlyphs" stroke="#4D4D4D" stroke-width="0.05">known_lincRNA_gene</text>
<line x1="495.3" y1="498.6" x2="495.3" y2="500.5" stroke="#333333" stroke-width="0.8"/>
<text x="495.3" y="507.9" font-size="6.8" text-anchor="middle" fill="#4D4D4D" font-weight="normal" textLength="55.1" lengthAdjust="spacingAndGlyphs" stroke="#4D4D4D" stroke-width="0.05">novel_lincRNA_gene</text>
<text x="427" y="515.8" font-size="7.6" text-anchor="middle" fill="#1a1a1a" font-weight="bold" textLength="31.4" lengthAdjust="spacingAndGlyphs" stroke="#1a1a1a" stroke-width="0.15">Gene type</text>
<text x="307.7" y="385.2" font-size="7.2" text-anchor="middle" fill="#1a1a1a" font-weight="normal" textLength="22.4" lengthAdjust="spacingAndGlyphs" transform="rotate(-90 307.7 385.2)">FPKM</text>
<text x="288.6" y="279.7" font-size="16.2" text-anchor="start" fill="#000" font-weight="normal" textLength="11.2" lengthAdjust="spacingAndGlyphs" stroke="#000" stroke-width="0.35">D</text>
<rect x="458.8" y="278.5" width="78.2" height="43" fill="#EBEBEB" fill-opacity="0.6"/>
<line x1="466.6" y1="282.4" x2="466.6" y2="284.6" stroke="#333" stroke-width="0.7"/>
<line x1="466.6" y1="291.2" x2="466.6" y2="293.4" stroke="#333" stroke-width="0.7"/>
<rect x="462.2" y="284.6" width="8.8" height="6.6" fill="#F8766D" stroke="#1a1a1a" stroke-width="0.8"/>
<line x1="462.2" y1="287.9" x2="471" y2="287.9" stroke="#111" stroke-width="1.2"/>
<circle cx="466.6" cy="287.9" r="1.1" fill="#000"/>
<line x1="466.6" y1="295.4" x2="466.6" y2="297.6" stroke="#333" stroke-width="0.7"/>
<line x1="466.6" y1="304.2" x2="466.6" y2="306.4" stroke="#333" stroke-width="0.7"/>
<rect x="462.2" y="297.6" width="8.8" height="6.6" fill="#00BA38" stroke="#1a1a1a" stroke-width="0.8"/>
<line x1="462.2" y1="300.9" x2="471" y2="300.9" stroke="#111" stroke-width="1.2"/>
<circle cx="466.6" cy="300.9" r="1.1" fill="#000"/>
<line x1="466.6" y1="308.2" x2="466.6" y2="310.4" stroke="#333" stroke-width="0.7"/>
<line x1="466.6" y1="317" x2="466.6" y2="319.2" stroke="#333" stroke-width="0.7"/>
<rect x="462.2" y="310.4" width="8.8" height="6.6" fill="#619CFF" stroke="#1a1a1a" stroke-width="0.8"/>
<line x1="462.2" y1="313.7" x2="471" y2="313.7" stroke="#111" stroke-width="1.2"/>
<circle cx="466.6" cy="313.7" r="1.1" fill="#000"/>
<text x="475.9" y="290" font-size="7" text-anchor="start" fill="#1a1a1a" font-weight="normal" textLength="55.58" lengthAdjust="spacingAndGlyphs" stroke="#1a1a1a" stroke-width="0.2">protein_coding_gene</text>
<text x="475.9" y="302.9" font-size="7" text-anchor="start" fill="#1a1a1a" font-weight="normal" textLength="58.54" lengthAdjust="spacingAndGlyphs" stroke="#1a1a1a" stroke-width="0.2">known_lincRNA_gene</text>
<text x="475.9" y="316.2" font-size="7" text-anchor="start" fill="#1a1a1a" font-weight="normal" textLength="55.57" lengthAdjust="spacingAndGlyphs" stroke="#1a1a1a" stroke-width="0.2">novel_lincRNA_gene</text>
</svg></body></html>
